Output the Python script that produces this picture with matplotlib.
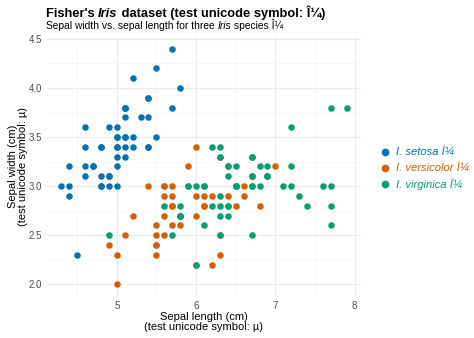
import matplotlib
matplotlib.use("Agg")
import matplotlib.pyplot as plt
from matplotlib.ticker import MultipleLocator

plt.rcParams["font.family"] = ["Liberation Sans", "DejaVu Sans"]

# Sepal measurements (cm) for the three Iris species
setosa_length = [5.1, 4.9, 4.7, 4.6, 5.0, 5.4, 4.6, 5.0, 4.4, 4.9, 5.4, 4.8, 4.8, 4.3, 5.8, 5.7, 5.4,
                 5.1, 5.7, 5.1, 5.4, 5.1, 4.6, 5.1, 4.8, 5.0, 5.0, 5.2, 5.2, 4.7, 4.8, 5.4, 5.2, 5.5,
                 4.9, 5.0, 5.5, 4.9, 4.4, 5.1, 5.0, 4.5, 4.4, 5.0, 5.1, 4.8, 5.1, 4.6, 5.3, 5.0]
setosa_width = [3.5, 3.0, 3.2, 3.1, 3.6, 3.9, 3.4, 3.4, 2.9, 3.1, 3.7, 3.4, 3.0, 3.0, 4.0, 4.4, 3.9,
                3.5, 3.8, 3.8, 3.4, 3.7, 3.6, 3.3, 3.4, 3.0, 3.4, 3.5, 3.4, 3.2, 3.1, 3.4, 4.1, 4.2,
                3.1, 3.2, 3.5, 3.6, 3.0, 3.4, 3.5, 2.3, 3.2, 3.5, 3.8, 3.0, 3.8, 3.2, 3.7, 3.3]
versicolor_length = [7.0, 6.4, 6.9, 5.5, 6.5, 5.7, 6.3, 4.9, 6.6, 5.2, 5.0, 5.9, 6.0, 6.1, 5.6, 6.7,
                     5.6, 5.8, 6.2, 5.6, 5.9, 6.1, 6.3, 6.1, 6.4, 6.6, 6.8, 6.7, 6.0, 5.7, 5.5, 5.5,
                     5.8, 6.0, 5.4, 6.0, 6.7, 6.3, 5.6, 5.5, 5.5, 6.1, 5.8, 5.0, 5.6, 5.7, 5.7, 6.2,
                     5.1, 5.7]
versicolor_width = [3.2, 3.2, 3.1, 2.3, 2.8, 2.8, 3.3, 2.4, 2.9, 2.7, 2.0, 3.0, 2.2, 2.9, 2.9, 3.1,
                    3.0, 2.7, 2.2, 2.5, 3.2, 2.8, 2.5, 2.8, 2.9, 3.0, 2.8, 3.0, 2.9, 2.6, 2.4, 2.4,
                    2.7, 2.7, 3.0, 3.4, 3.1, 2.3, 3.0, 2.5, 2.6, 3.0, 2.6, 2.3, 2.7, 3.0, 2.9, 2.9,
                    2.5, 2.8]
virginica_length = [6.3, 5.8, 7.1, 6.3, 6.5, 7.6, 4.9, 7.3, 6.7, 7.2, 6.5, 6.4, 6.8, 5.7, 5.8, 6.4,
                    6.5, 7.7, 7.7, 6.0, 6.9, 5.6, 7.7, 6.3, 6.7, 7.2, 6.2, 6.1, 6.4, 7.2, 7.4, 7.9,
                    6.4, 6.3, 6.1, 7.7, 6.3, 6.4, 6.0, 6.9, 6.7, 6.9, 5.8, 6.8, 6.7, 6.7, 6.3, 6.5,
                    6.2, 5.9]
virginica_width = [3.3, 2.7, 3.0, 2.9, 3.0, 3.0, 2.5, 2.9, 2.5, 3.6, 3.2, 2.7, 3.0, 2.5, 2.8, 3.2,
                   3.0, 3.8, 2.6, 2.2, 3.2, 2.8, 2.8, 2.7, 3.3, 3.2, 2.8, 3.0, 2.8, 3.0, 2.8, 3.8,
                   2.8, 2.8, 2.6, 3.0, 3.4, 3.1, 3.0, 3.1, 3.1, 3.1, 2.7, 3.2, 3.3, 3.0, 2.5, 3.0,
                   3.4, 3.0]

species_labels = ["I. setosa Î¼", "I. versicolor Î¼", "I. virginica Î¼"]
species_colors = ["#0072B2", "#D55E00", "#009E73"]
x_ticks = [5, 6, 7, 8]
y_ticks = [2.0, 2.5, 3.0, 3.5, 4.0, 4.5]

W, H = 474, 338
fig = plt.figure(figsize=(W / 100, H / 100), dpi=100)
ax = fig.add_axes([47 / W, 1 - 296 / H, (361 - 47) / W, (296 - 37) / H])

series = [(setosa_length, setosa_width), (versicolor_length, versicolor_width),
          (virginica_length, virginica_width)]
for (xs, ys), col in zip(series, species_colors):
    ax.scatter(xs, ys, s=22, color=col, linewidths=0, zorder=3)

ax.set_xlim(4.12, 8.08)
ax.set_ylim(1.88, 4.52)
ax.set_xticks(x_ticks)
ax.set_yticks(y_ticks)
ax.set_yticklabels([f"{v:.1f}" for v in y_ticks])
ax.set_xticklabels([str(v) for v in x_ticks])
ax.xaxis.set_minor_locator(MultipleLocator(0.5))
ax.yaxis.set_minor_locator(MultipleLocator(0.25))
ax.grid(True, which="major", color="#EBEBEB", linewidth=0.8)
ax.grid(True, which="minor", color="#F3F3F3", linewidth=0.5)
ax.set_axisbelow(True)
for sp in ax.spines.values():
    sp.set_visible(False)
ax.tick_params(which="both", length=0, labelsize=7, labelcolor="#4D4D4D", pad=3.5)

ax.set_xlabel("Sepal length (cm)\n(test unicode symbol: µ)", fontsize=8, color="black",
              labelpad=0.5, linespacing=1.05)
ax.set_ylabel("Sepal width (cm)\n(test unicode symbol: µ)", fontsize=8, color="black",
              labelpad=0.5, linespacing=1.05)


def text_runs(x, y, runs, size, color="black"):
    """Draw consecutive text pieces with different styles on one baseline."""
    renderer = fig.canvas.get_renderer()
    cx = x
    for s, weight, style in runs:
        t = fig.text(cx / W, 1 - y / H, s, fontsize=size, fontweight=weight, fontstyle=style,
                     color=color, va="baseline", ha="left")
        bb = t.get_window_extent(renderer=renderer)
        cx += bb.width


text_runs(46, 17, [("Fisher's ", "bold", "normal"), ("Iris", "bold", "italic"),
                   (" dataset (test unicode symbol: Î¼)", "bold", "normal")], 9.3)
text_runs(46, 29, [("Sepal width vs. sepal length for three ", "normal", "normal"),
                   ("Iris", "normal", "italic"), (" species Î¼", "normal", "normal")], 7.4)

# legend
leg_y = [152, 168, 184]
for lab, col, ly in zip(species_labels, species_colors, leg_y):
    fig.lines.append(plt.Line2D([385 / W], [1 - ly / H], marker="o", markersize=4.5,
                                color=col, linestyle="none", transform=fig.transFigure))
    fig.text(396 / W, 1 - ly / H, lab, fontsize=8, fontstyle="italic", color=col,
             va="center", ha="left")

fig.savefig("out.png", dpi=100, facecolor="white")
